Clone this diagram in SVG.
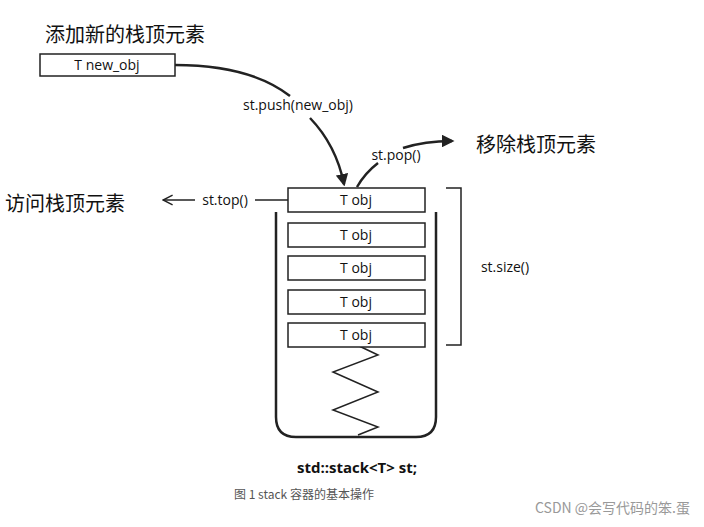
<svg xmlns="http://www.w3.org/2000/svg" width="704" height="527" viewBox="0 0 704 527">
<style>
text{font-family:"Open Sans","Liberation Sans",sans-serif;font-size:14px;fill:#111}
.cn{font-family:"Noto Sans CJK SC",sans-serif;font-size:20px;fill:#111}
.box{fill:#fff;stroke:#222;stroke-width:1.5}
.ln{fill:none;stroke:#222;stroke-width:1.5}
.thick{fill:none;stroke:#222;stroke-width:2.5}
</style>
<defs>
<marker id="ah" viewBox="0 0 10 10" refX="8" refY="5" markerWidth="5" markerHeight="5" orient="auto"><path d="M0,0L10,5L0,10z" fill="#222"/></marker>
<marker id="ta" viewBox="0 0 10 10" refX="9" refY="5" markerWidth="8" markerHeight="8" orient="auto"><path d="M1,1L9,5L1,9" fill="none" stroke="#222" stroke-width="1.2"/></marker>
</defs>
<rect width="704" height="527" fill="#fff"/>
<text class="cn" x="45" y="42">添加新的栈顶元素</text>
<text class="cn" x="476" y="152">移除栈顶元素</text>
<text class="cn" x="5" y="211">访问栈顶元素</text>
<g id="newobj"><rect class="box" x="40" y="54" width="135" height="22"/><text x="107" y="70" text-anchor="middle">T new_obj</text></g>
<g id="container">
<path class="thick" d="M276,212V417Q276,437 296,437H416Q436,437 436,417V212"/>
<polyline class="ln" points="357,345 378,355 333,372 378,392 333,410 378,427 358,435"/>
</g>
<g id="s1"><rect class="box" x="288" y="188" width="137" height="24"/><text x="356" y="205" text-anchor="middle">T obj</text></g>
<g id="s2"><rect class="box" x="288" y="223" width="137" height="24"/><text x="356" y="240" text-anchor="middle">T obj</text></g>
<g id="s3"><rect class="box" x="288" y="256" width="137" height="24"/><text x="356" y="273" text-anchor="middle">T obj</text></g>
<g id="s4"><rect class="box" x="288" y="290" width="137" height="24"/><text x="356" y="307" text-anchor="middle">T obj</text></g>
<g id="s5"><rect class="box" x="288" y="323" width="137" height="24"/><text x="356" y="340" text-anchor="middle">T obj</text></g>
<g id="connectors">
<path class="thick" d="M175,65Q250,65 290,96"/>
<path class="thick" d="M310,118Q336,145 344,184" marker-end="url(#ah)"/>
<path class="thick" d="M357,187Q365,173 378,163"/>
<path class="thick" d="M403,148Q425,141 452,141" marker-end="url(#ah)"/>
<path class="ln" d="M288,200H255"/>
<path class="ln" d="M195,200H163" marker-end="url(#ta)"/>
<path class="ln" d="M446,188H461V345H446"/>
</g>
<text x="298" y="110" text-anchor="middle">st.push(new_obj)</text>
<text x="396" y="160" text-anchor="middle">st.pop()</text>
<text x="225" y="205" text-anchor="middle">st.top()</text>
<text x="505" y="272" text-anchor="middle">st.size()</text>
<text x="357" y="473" text-anchor="middle" style="font-weight:bold;font-size:15px">std::stack&lt;T&gt; st;</text>
<text x="304" y="499" text-anchor="middle" style="font-family:'Noto Sans CJK SC',sans-serif;font-size:12px;fill:#555">图 1 stack 容器的基本操作</text>
<text x="690" y="513" text-anchor="end" style="font-family:'Noto Sans CJK SC',sans-serif;font-size:14px;fill:#999">CSDN @会写代码的笨.蛋</text>
</svg>
